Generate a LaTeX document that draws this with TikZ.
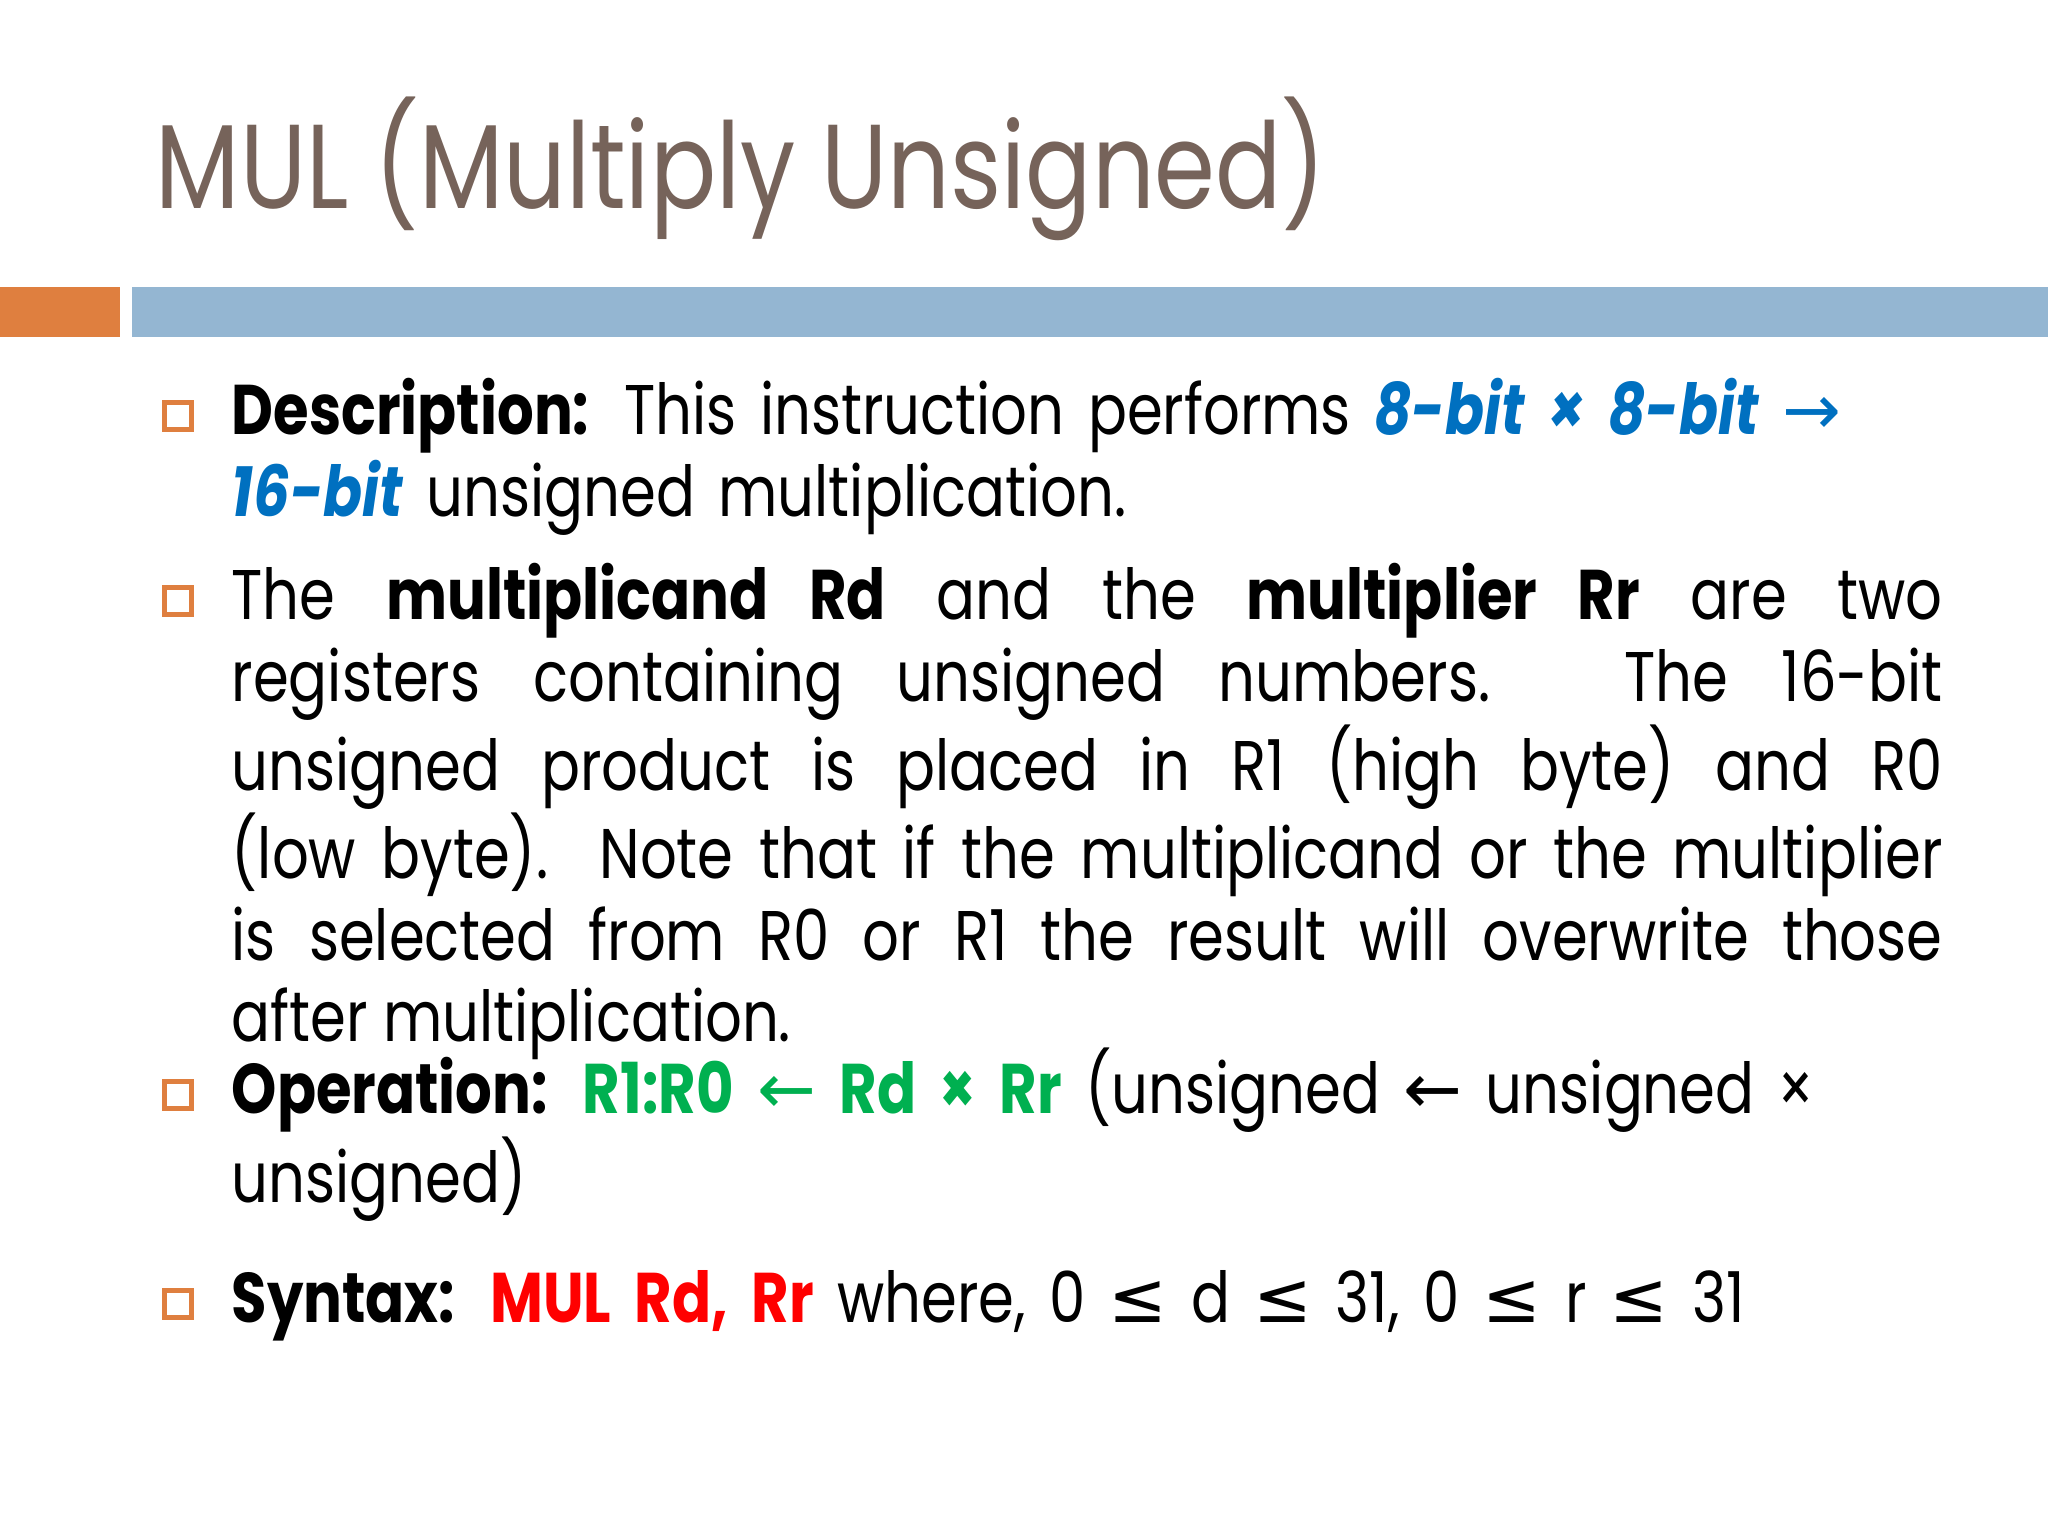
\documentclass[tikz,border=0pt]{standalone}
\usepackage{fontspec}
\setmainfont[FakeStretch=0.82]{Poppins}
\newfontfamily\symf{DejaVu Sans}
\definecolor{titlec}{HTML}{76635A}
\definecolor{orng}{HTML}{DF7F3F}
\definecolor{blu}{HTML}{94B6D2}
\definecolor{kblue}{HTML}{0070C0}
\definecolor{kgreen}{HTML}{00B050}
\definecolor{kred}{HTML}{FF0000}
\newcommand{\sy}[1]{{\symf\mdseries\upshape #1}}
\tikzset{
  bul/.style={draw=orng,line width=1.2pt,minimum size=0.27cm,inner sep=0pt},
  para/.style={anchor=base west,inner sep=0pt,text width=17.11cm,font=\fontsize{20}{23.3}\selectfont}
}
\begin{document}
\begin{tikzpicture}
\useasboundingbox (0,0) rectangle (20.48,15.36);
\node[anchor=base west,inner sep=0pt,text=titlec,font=\fontsize{34}{38}\selectfont] (title) at (1.55,13.27) {MUL (Multiply Unsigned)};
\fill[orng] (0,11.99) rectangle (1.20,12.49);
\fill[blu] (1.32,11.99) rectangle (20.48,12.49);
\node[bul] (b1) at (1.78,11.20) {};
\node[bul] (b2) at (1.78,9.35) {};
\node[bul] (b3) at (1.78,4.41) {};
\node[bul] (b4) at (1.78,2.32) {};
\node[para,align=left] (p1) at (2.31,11.01) {\textbf{Description:} This instruction performs {\color{kblue}\bfseries\itshape 8-bit × 8-bit \sy{→}}\\{\color{kblue}\bfseries\itshape 16-bit} unsigned multiplication.};
\node[para,align=justify] (p2) at (2.31,9.16) {\hyphenpenalty=10000 The \textbf{multiplicand Rd} and the \textbf{multiplier Rr} are two\linebreak registers containing unsigned numbers. The 16-bit\linebreak unsigned product is placed in R1 (high byte) and R0\linebreak (low byte). Note that if the multiplicand or the multiplier\linebreak is selected from R0 or R1 the result will overwrite those\linebreak after multiplication.};
\node[para,align=left] (p3) at (2.31,4.22) {\textbf{Operation:} {\color{kgreen}\bfseries R1:R0 \sy{←} Rd × Rr} (unsigned \sy{←} unsigned ×\\unsigned)};
\node[para,align=left] (p4) at (2.31,2.13) {\textbf{Syntax:} {\color{kred}\bfseries MUL Rd, Rr} where, 0 \sy{≤} d \sy{≤} 31, 0 \sy{≤} r \sy{≤} 31};
\end{tikzpicture}
\end{document}
